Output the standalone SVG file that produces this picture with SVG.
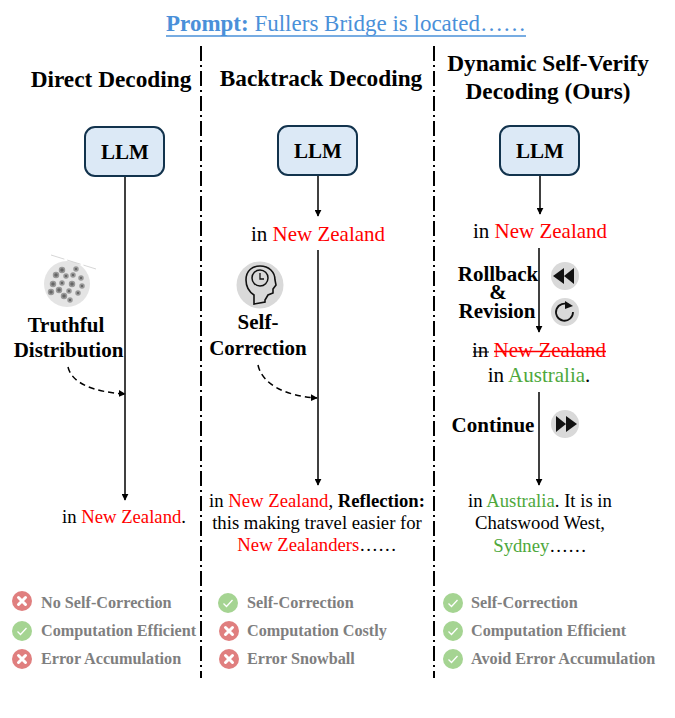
<svg xmlns="http://www.w3.org/2000/svg" width="675" height="718" viewBox="0 0 675 718">
<style>
text{font-family:"Liberation Serif","Times New Roman",serif;fill:#000}
.h{font-size:23.300px;font-weight:700;text-anchor:middle}
.b{font-size:21px;font-weight:700;text-anchor:middle}
.t{font-size:18.700px;text-anchor:middle}
.t2{font-size:21px;text-anchor:middle}
.r{fill:#f00}.g{fill:#4ea83c}
.s{font-size:16.200px;font-weight:700;fill:#7f7f7f}
.llm{fill:#dce9f6;stroke:#12334d;stroke-width:2}
.line{stroke:#000;stroke-width:1.500;fill:none}
.sep{stroke:#000;stroke-width:2;stroke-dasharray:15 4 2 4;fill:none}
.dash{stroke:#000;stroke-width:1.500;stroke-dasharray:6 4;fill:none}
.ic{fill:#d9d9d9}
.ok{fill:#a5d492}.no{fill:#e07f7f}
.m{stroke:#fff;stroke-width:3;stroke-linecap:round;fill:none}
.c{stroke:#fff;stroke-width:1.300;fill:none}
</style>
<defs>
<marker id="a" viewBox="0 0 10 10" refX="9" refY="5" markerWidth="7" markerHeight="7" markerUnits="userSpaceOnUse" orient="auto"><path d="M0 0L10 5L0 10z" fill="#000"/></marker>
<g id="okI"><circle r="10" class="ok"/><path class="c" d="M-4.500 0.500L-1.500 3.500L4.500-3"/></g>
<g id="noI"><circle r="10" class="no"/><path class="m" d="M-3.500-3.500L3.500 3.500M3.500-3.500L-3.500 3.500"/></g>
</defs>
<g id="prompt"><text x="346" y="31" text-anchor="middle" font-size="23" style="fill:#4a90d9"><tspan font-weight="700" style="fill:#4a90d9">Prompt:</tspan> Fullers Bridge is located……</text>
<path d="M166 36H526" stroke="#4a90d9" stroke-width="1.500"/></g>
<g id="separators"><path class="sep" d="M201 46V678"/><path class="sep" d="M434 46V678"/></g>
<g id="connectors">
<path class="line" d="M125 176V500" marker-end="url(#a)"/>
<path class="line" d="M318 176V216" marker-end="url(#a)"/>
<path class="line" d="M318 250V485" marker-end="url(#a)"/>
<path class="line" d="M540 176V214" marker-end="url(#a)"/>
<path class="line" d="M539 248V332" marker-end="url(#a)"/>
<path class="line" d="M539 392V485" marker-end="url(#a)"/>
<path class="dash" d="M68 367C72 384 95 392 125 394" marker-end="url(#a)"/>
<path class="dash" d="M258 365C262 384 285 396 317 398" marker-end="url(#a)"/>
</g>
<g id="col1">
<text class="h" x="111" y="87">Direct Decoding</text>
<g id="llm1"><rect class="llm" x="85" y="127" width="79" height="49" rx="10"/><text class="b" x="125" y="159">LLM</text></g>
<g id="truthful"><circle cx="67" cy="284" r="23" fill="#e4e4e4"/>
<path d="M51 255L96 269" stroke="#ccc" stroke-width="0.800" stroke-dasharray="14 3"/>
<g fill="#666" stroke="#999" stroke-width="1.500"><circle cx="62" cy="270" r="2.500"/><circle cx="76" cy="269" r="2"/><circle cx="56" cy="275" r="2.500"/><circle cx="66" cy="276" r="2"/><circle cx="73" cy="275" r="2"/><circle cx="81" cy="278" r="2"/><circle cx="53" cy="284" r="2.500"/><circle cx="62" cy="283" r="2"/><circle cx="72" cy="284" r="2.500"/><circle cx="82" cy="286" r="2"/><circle cx="51" cy="292" r="2.500"/><circle cx="59" cy="290" r="2.500"/><circle cx="69" cy="291" r="2"/><circle cx="78" cy="293" r="2"/><circle cx="64" cy="296" r="2.500"/><circle cx="70" cy="300" r="2"/></g>
<text class="b" x="66" y="332">Truthful</text><text class="b" x="68.500" y="357">Distribution</text></g>
<text class="t" x="124" y="523">in <tspan class="r">New Zealand</tspan>.</text>
<g id="s1"><use href="#noI" x="22" y="601"/><text class="s" x="41" y="608">No Self-Correction</text>
<use href="#okI" x="22" y="631"/><text class="s" x="41" y="636">Computation Efficient</text>
<use href="#noI" x="22" y="659"/><text class="s" x="41" y="664">Error Accumulation</text></g>
</g>
<g id="col2">
<text class="h" x="321" y="86">Backtrack Decoding</text>
<g id="llm2"><rect class="llm" x="278" y="126" width="79" height="49" rx="10"/><text class="b" x="318" y="158">LLM</text></g>
<text class="t2" x="318" y="241">in <tspan class="r">New Zealand</tspan></text>
<g id="selfcorr"><circle cx="260" cy="285" r="23.500" class="ic"/>
<path d="M254 304V295C248 291 246 286 246 280C246 270 253 266 260 266C269 266 275 272 275 280L276 285L273 289V293L268 295L265 300V302Z" fill="none" stroke="#111" stroke-width="1.600"/>
<circle cx="260" cy="278" r="8" fill="none" stroke="#111" stroke-width="1.500"/><path d="M260 273V279H264" fill="none" stroke="#111" stroke-width="1.300"/>
<text class="b" x="258" y="329">Self-</text><text class="b" x="258" y="355">Correction</text></g>
<text class="t" x="317" y="507">in <tspan class="r">New Zealand</tspan>, <tspan font-weight="700">Reflection:</tspan></text>
<text class="t" x="317" y="529">this making travel easier for</text>
<text class="t" x="317" y="551"><tspan class="r">New Zealanders</tspan>……</text>
<g id="s2"><use href="#okI" x="228" y="603"/><text class="s" x="247" y="608">Self-Correction</text>
<use href="#noI" x="229" y="631"/><text class="s" x="247" y="636">Computation Costly</text>
<use href="#noI" x="229" y="659"/><text class="s" x="247" y="664">Error Snowball</text></g>
</g>
<g id="col3">
<text class="h" x="548" y="71">Dynamic Self-Verify</text><text class="h" x="548" y="99">Decoding (Ours)</text>
<g id="llm3"><rect class="llm" x="500" y="126" width="79" height="49" rx="10"/><text class="b" x="540" y="158">LLM</text></g>
<text class="t2" x="540" y="238">in <tspan class="r">New Zealand</tspan></text>
<text class="b" x="498" y="281">Rollback</text><text class="b" x="498" y="299">&amp;</text><text class="b" x="497" y="318">Revision</text>
<g id="rew"><circle cx="565" cy="276" r="14" class="ic"/><path d="M564 268L553 276L564 284ZM574 268L564 276L574 284Z" fill="#111"/></g>
<g id="redo"><circle cx="565" cy="312" r="14" class="ic"/><path d="M569 305A8.500 8.500 0 1 0 573 312" fill="none" stroke="#111" stroke-width="1.800"/><path d="M565 301L573 306L565 309Z" fill="#111"/></g>
<text class="t2" x="539" y="357">in <tspan class="r">New Zealand</tspan></text>
<path d="M473 352H489" stroke="#000" stroke-width="1"/><path d="M494 351.500H606" stroke="#f00" stroke-width="1.500"/>
<text class="t2" x="539" y="382">in <tspan class="g">Australia</tspan>.</text>
<text class="b" x="493" y="432">Continue</text>
<g id="ff"><circle cx="565" cy="424" r="14" class="ic"/><path d="M556 416L566 424L556 432ZM566 416L577 424L566 432Z" fill="#111"/></g>
<text class="t" x="540" y="507">in <tspan class="g">Australia</tspan>. It is in</text>
<text class="t" x="540" y="529">Chatswood West,</text>
<text class="t" x="540" y="552"><tspan class="g">Sydney</tspan>……</text>
<g id="s3"><use href="#okI" x="453" y="603"/><text class="s" x="471" y="608">Self-Correction</text>
<use href="#okI" x="453" y="631"/><text class="s" x="471" y="636">Computation Efficient</text>
<use href="#okI" x="453" y="659"/><text class="s" x="471" y="664">Avoid Error Accumulation</text></g>
</g>
</svg>
